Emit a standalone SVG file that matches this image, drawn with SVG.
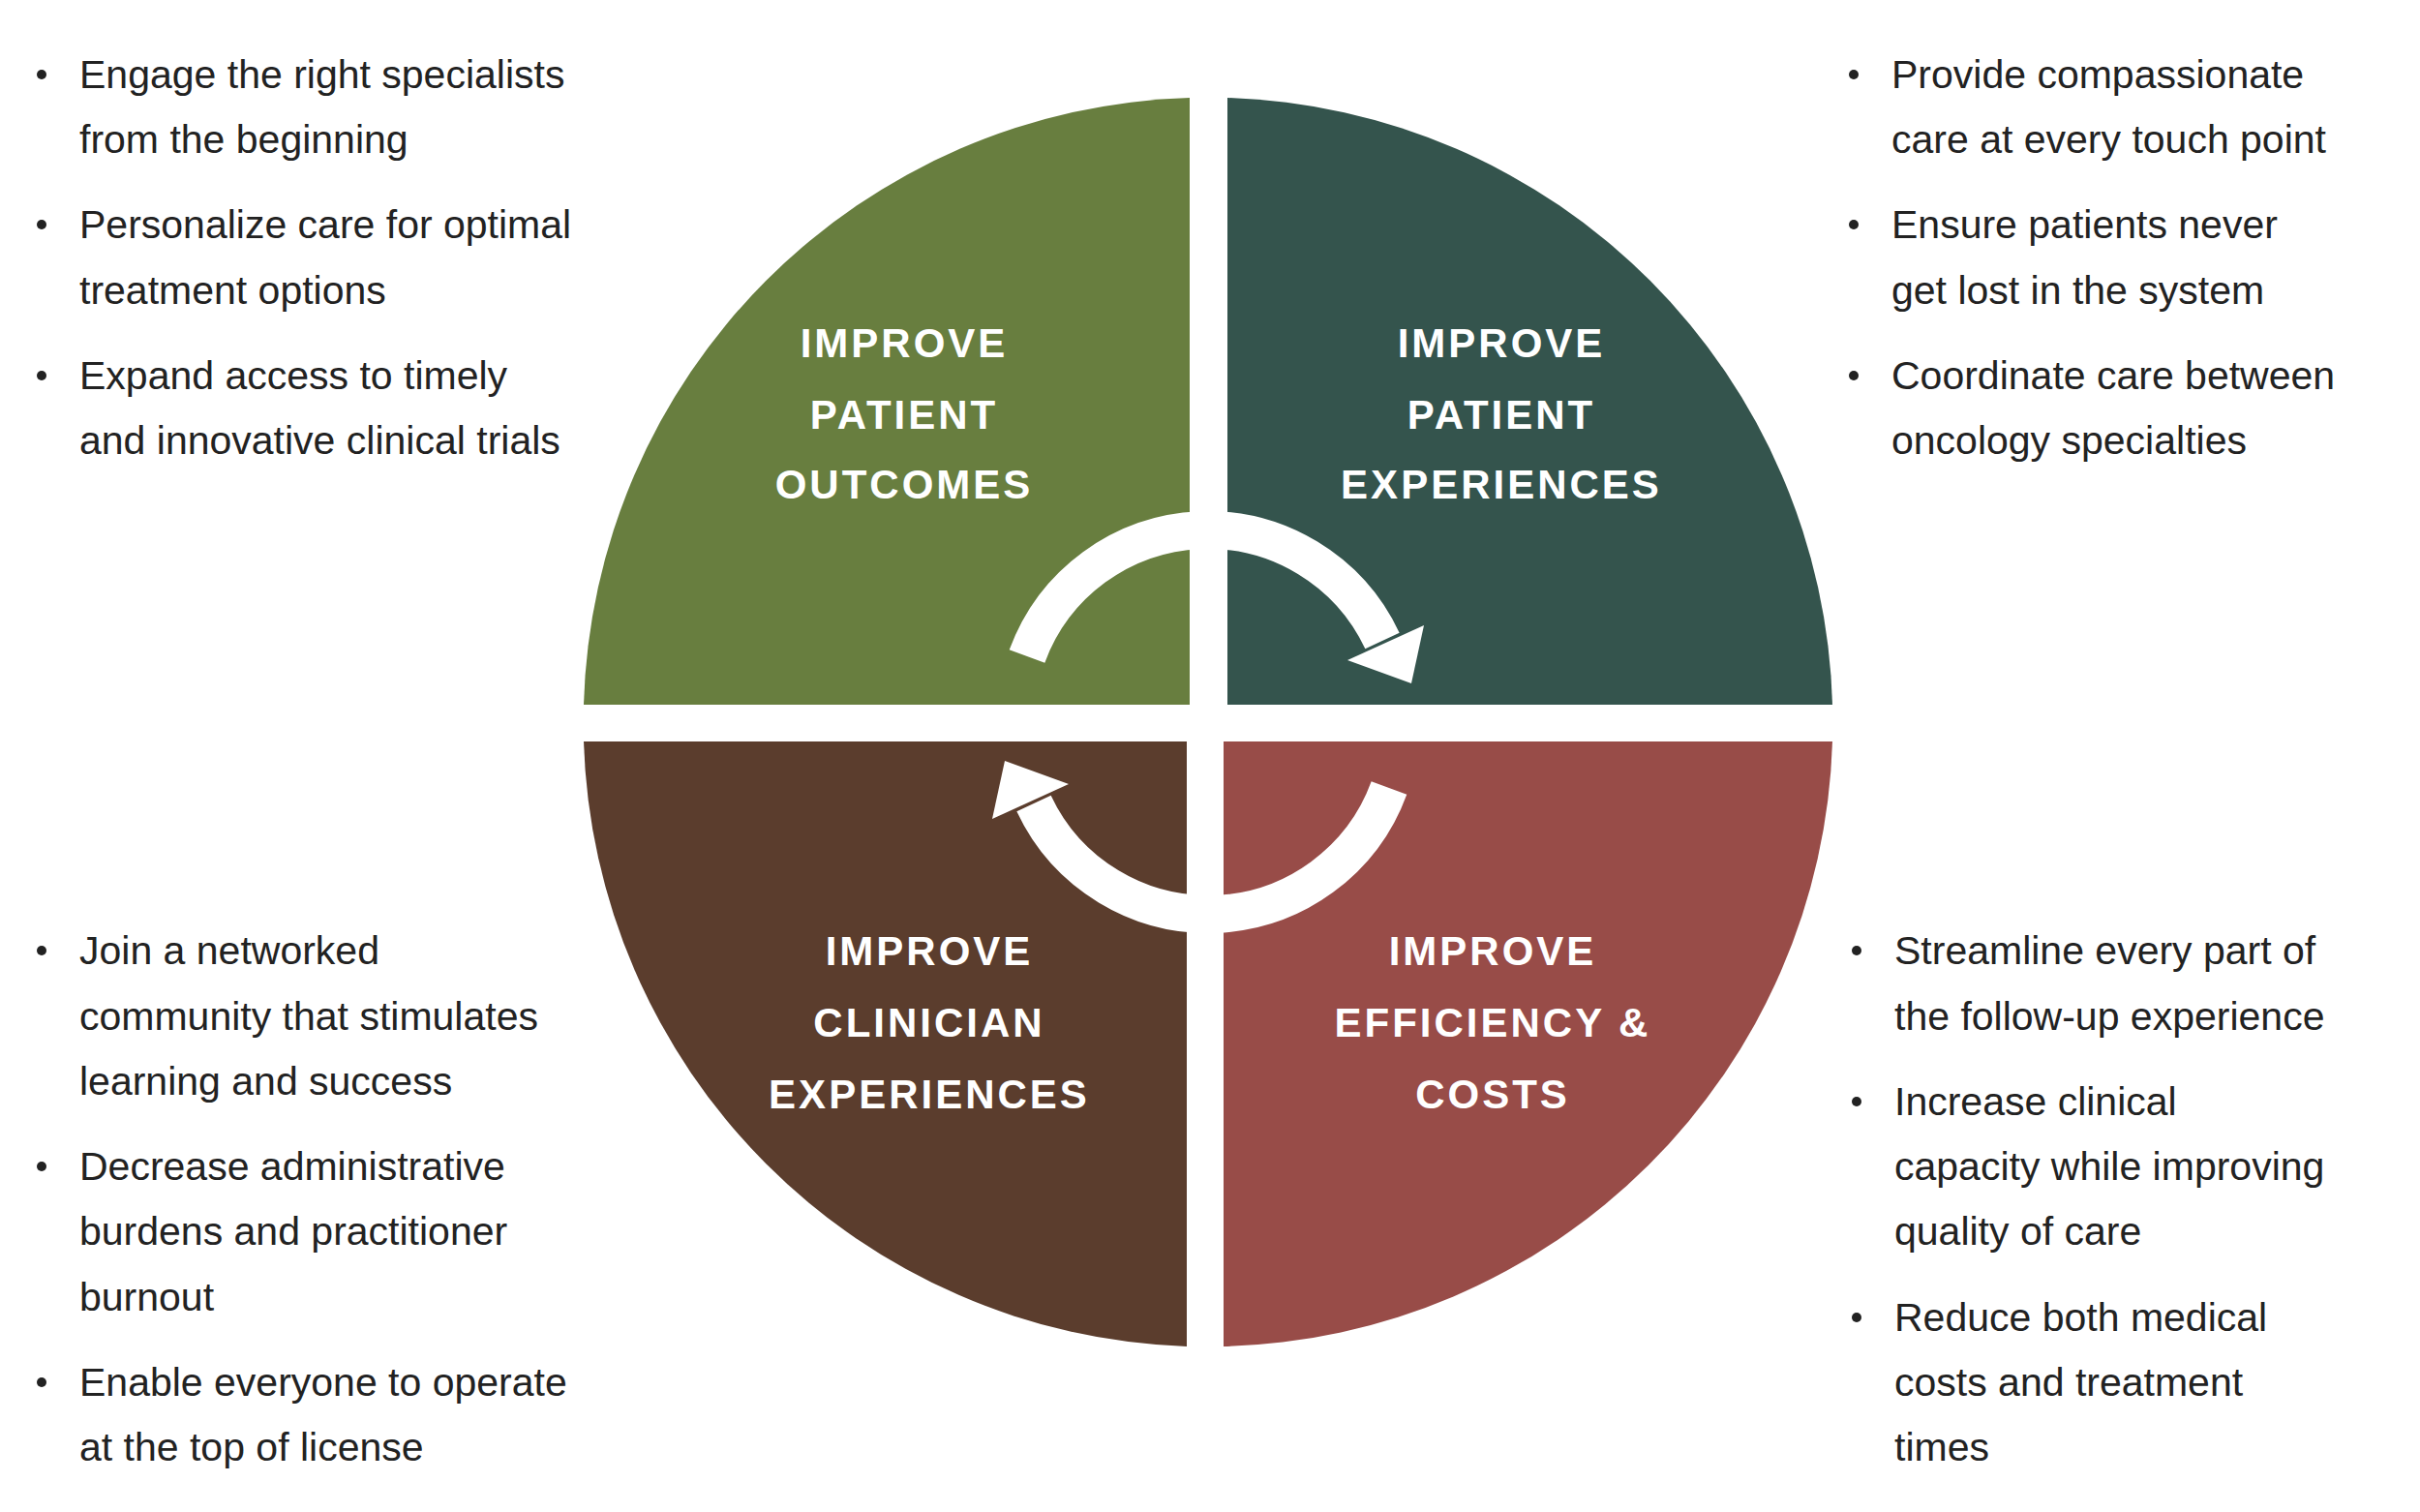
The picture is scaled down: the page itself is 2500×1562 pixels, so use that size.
<svg xmlns="http://www.w3.org/2000/svg" width="2500" height="1562" viewBox="0 0 2500 1562">
<style>
.q{font-family:"Liberation Sans",Arial,sans-serif;font-weight:bold;font-size:42px;fill:#fff;letter-spacing:3px;text-anchor:middle}
.b{font-family:"Liberation Sans",Arial,sans-serif;font-size:41px;fill:#222}
.ring{fill:none;stroke:#fff;stroke-width:39}
</style>
<rect width="2500" height="1562" fill="#fff"/>
<g id="q-outcomes"><path d="M1229,728 L603,728 A645,645 0 0 1 1229,101 Z" fill="#687e3f"/>
<text class="q" x="934" y="369">IMPROVE</text><text class="q" x="934" y="443">PATIENT</text><text class="q" x="934" y="515">OUTCOMES</text></g>
<g id="q-experiences"><path d="M1268,728 L1268,101 A645,645 0 0 1 1893,728 Z" fill="#34544d"/>
<text class="q" x="1551" y="369">IMPROVE</text><text class="q" x="1551" y="443">PATIENT</text><text class="q" x="1551" y="515">EXPERIENCES</text></g>
<g id="q-clinician"><path d="M1226,766 L603,766 A645,645 0 0 0 1226,1391 Z" fill="#5b3d2d"/>
<text class="q" x="960" y="997">IMPROVE</text><text class="q" x="960" y="1071">CLINICIAN</text><text class="q" x="960" y="1145">EXPERIENCES</text></g>
<g id="q-efficiency"><path d="M1264,766 L1893,766 A645,645 0 0 1 1264,1391 Z" fill="#984c48"/>
<text class="q" x="1542" y="997">IMPROVE</text><text class="q" x="1542" y="1071">EFFICIENCY &amp;</text><text class="q" x="1542" y="1145">COSTS</text></g>
<g id="connectors">
<g id="arrow-top"><path class="ring" d="M1061,678 A199,199 0 0 1 1428,662"/>
<polygon points="1471,646 1392,682 1458,706" fill="#fff"/></g>
<g transform="rotate(180 1248 746)"><path class="ring" d="M1061,678 A199,199 0 0 1 1428,662"/>
<polygon points="1471,646 1392,682 1458,706" fill="#fff"/></g>
</g>
<g id="list-tl" class="b">
<circle cx="43" cy="77" r="5" fill="#222"/><circle cx="43" cy="232" r="5" fill="#222"/><circle cx="43" cy="388" r="5" fill="#222"/>
<text x="82" y="91">Engage the right specialists</text><text x="82" y="158">from the beginning</text>
<text x="82" y="246">Personalize care for optimal</text><text x="82" y="314">treatment options</text>
<text x="82" y="402">Expand access to timely</text><text x="82" y="469">and innovative clinical trials</text></g>
<g id="list-tr" class="b">
<circle cx="1915" cy="77" r="5" fill="#222"/><circle cx="1915" cy="232" r="5" fill="#222"/><circle cx="1915" cy="388" r="5" fill="#222"/>
<text x="1954" y="91">Provide compassionate</text><text x="1954" y="158">care at every touch point</text>
<text x="1954" y="246">Ensure patients never</text><text x="1954" y="314">get lost in the system</text>
<text x="1954" y="402">Coordinate care between</text><text x="1954" y="469">oncology specialties</text></g>
<g id="list-bl" class="b">
<circle cx="43" cy="982" r="5" fill="#222"/><circle cx="43" cy="1205" r="5" fill="#222"/><circle cx="43" cy="1428" r="5" fill="#222"/>
<text x="82" y="996">Join a networked</text><text x="82" y="1064">community that stimulates</text><text x="82" y="1131">learning and success</text>
<text x="82" y="1219">Decrease administrative</text><text x="82" y="1286">burdens and practitioner</text><text x="82" y="1354">burnout</text>
<text x="82" y="1442">Enable everyone to operate</text><text x="82" y="1509">at the top of license</text></g>
<g id="list-br" class="b">
<circle cx="1918" cy="982" r="5" fill="#222"/><circle cx="1918" cy="1138" r="5" fill="#222"/><circle cx="1918" cy="1361" r="5" fill="#222"/>
<text x="1957" y="996">Streamline every part of</text><text x="1957" y="1064">the follow-up experience</text>
<text x="1957" y="1152">Increase clinical</text><text x="1957" y="1219">capacity while improving</text><text x="1957" y="1286">quality of care</text>
<text x="1957" y="1375">Reduce both medical</text><text x="1957" y="1442">costs and treatment</text><text x="1957" y="1509">times</text></g>
</svg>
